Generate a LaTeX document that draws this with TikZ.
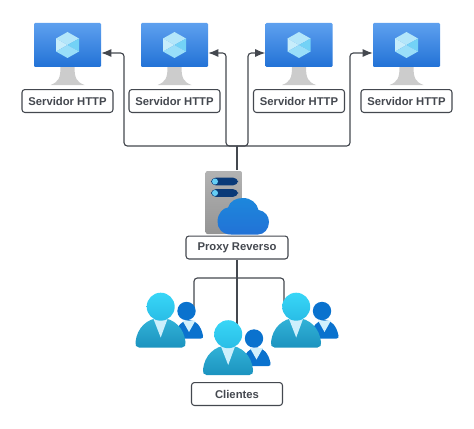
\documentclass[tikz,border=0pt]{standalone}
\usepackage{fontspec}
\setmainfont{Liberation Sans}
\usetikzlibrary{calc, arrows.meta}
\definecolor{inkdark}{HTML}{44484F}
\definecolor{screentop}{HTML}{5EA0EF}
\definecolor{screenbot}{HTML}{2272D6}
\definecolor{headtop}{HTML}{38D6F7}
\definecolor{headbot}{HTML}{29BDE6}
\definecolor{bodytop}{HTML}{32B3D8}
\definecolor{bodybot}{HTML}{1C93BF}
\definecolor{smallblue}{HTML}{0A72CE}
\definecolor{slotnavy}{HTML}{0A3A78}
\tikzset{
  caption/.style={draw=inkdark, line width=0.8pt, rounded corners=2.2pt, fill=white,
    minimum height=17.2pt, inner sep=0pt, text=inkdark, font=\bfseries\fontsize{8.45}{10}\selectfont},
  link/.style={draw=inkdark, line width=0.85pt, rounded corners=2.5pt},
  flow/.style={link, -{Latex[length=7.5pt,width=6pt]}},
}
\begin{document}
\begin{tikzpicture}[x=0.75pt, y=-0.75pt]
  \useasboundingbox (0,0) rectangle (474,428);
  % Servidores
  \foreach \i/\xc in {1/67.5, 2/174.5, 3/299, 4/406.5} {
    \begin{scope}[shift={(\xc,0)}]
      \fill[black!20] (-17,85) .. controls (-9,82) and (-7,78) .. (-7,67) -- (7,67)
        .. controls (7,78) and (9,82) .. (17,85) -- cycle;
      \shade[top color=screentop, bottom color=screenbot, rounded corners=0.8pt]
        (-33.5,23) rectangle (33.5,67);
      \node[inner sep=0pt, minimum width=50.25pt, minimum height=33pt] (srv\i) at (0,45) {};
      % Cubo
      \fill[cyan!30!white] (0,32) -- (11.5,38.5) -- (0,45) -- (-11.5,38.5) -- cycle;
      \fill[cyan!55!white] (0,45) -- (11.5,38.5) -- (11.5,51.5) -- cycle;
      \fill[cyan!22!white] (0,45) -- (-11.5,38.5) -- (-11.5,51.5) -- cycle;
      \fill[cyan!40!white] (0,45) -- (11.5,51.5) -- (0,58) -- (-11.5,51.5) -- cycle;
      \node[caption, minimum width=68.25pt] (lbl\i) at (0,101) {Servidor HTTP};
    \end{scope}
  }
  % Proxy
  \coordinate (hub) at (237,146);
  \shade[top color=black!30, bottom color=black!42, rounded corners=1.5pt] (205.5,171) rectangle (242,234);
  \node[inner sep=0pt, minimum size=1pt] (proxy) at (237,171) {};
  \foreach \yc in {181.5, 193} {
    \fill[slotnavy, rounded corners=3.5pt] (211,\yc-3.8) rectangle (238,\yc+3.8);
    \fill[cyan!60!white] (215,\yc) circle (3);
  }
  \shade[top color=screenbot!85!cyan, bottom color=screenbot]
    (231,234.5) .. controls (222,234.5) and (217,228) .. (217.5,221)
    .. controls (218,213) and (223,208) .. (228,207.5)
    .. controls (230,201) and (236,198) .. (243,198)
    .. controls (251,198) and (257,203) .. (258.5,210)
    .. controls (265,211) and (269,216) .. (269,222)
    .. controls (269,229) and (264,234.5) .. (258,234.5) -- cycle;
  \node[caption, minimum width=76.5pt] (lblproxy) at (237,247.5) {Proxy Reverso};
  % Ligacoes
  \draw[link] (proxy) -- (hub);
  \draw[flow] (hub) -| (124,53) -- (srv1.east |- 0,53);
  \draw[flow] (hub) -| (226,53) -- (srv2.east |- 0,53);
  \draw[flow] (hub) -| (248,53) -- (srv3.west |- 0,53);
  \draw[flow] (hub) -| (350,53) -- (srv4.west |- 0,53);
  % Clientes
  \coordinate (fork) at (237,278);
  \coordinate (cliA) at (194,310);
  \coordinate (cliB) at (237,325);
  \coordinate (cliC) at (284,310);
  \draw[link] (lblproxy) -- (cliB);
  \draw[link] (fork) -| (cliA);
  \draw[link] (fork) -| (cliC);
  \foreach \dx/\dy in {0/0, 135.5/0, 67.5/27.5} {
    \begin{scope}[shift={(\dx,\dy)}]
      % pequeno
      \fill[smallblue] (177,338.5) .. controls (175,338.5) and (174.5,337) .. (175,335.5)
        .. controls (177,326) and (182,320) .. (189,320)
        .. controls (196,320) and (201,326) .. (203,335.5)
        .. controls (203.5,337) and (203,338.5) .. (201,338.5) -- cycle;
      \fill[cyan!18!white] (182.5,320.5) -- (195.5,320.5) -- (189,332) -- cycle;
      \fill[smallblue] (186.5,311) circle (9.2);
      % grande
      \shade[top color=bodytop, bottom color=bodybot]
        (139,347.5) .. controls (136,347.5) and (135,345) .. (135.5,342)
        .. controls (137,328) and (147,318) .. (160.5,318)
        .. controls (174,318) and (184,328) .. (185.5,342)
        .. controls (186,345) and (185,347.5) .. (182,347.5) -- cycle;
      \fill[cyan!20!white] (153.5,319) -- (167.5,319) -- (160.7,337.5) -- cycle;
      \shade[top color=headtop, bottom color=headbot] (160.7,306.7) circle (14);
    \end{scope}
  }
  \node[caption, minimum width=68.25pt] (lblcli) at (237,394) {Clientes};
\end{tikzpicture}
\end{document}
